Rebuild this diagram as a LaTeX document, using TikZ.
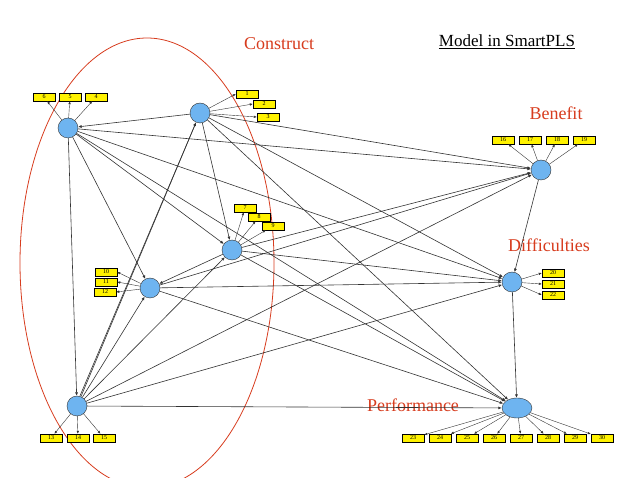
\documentclass[tikz,border=0pt]{standalone}
\usepackage{fontspec}
\setmainfont{Liberation Serif}
\usetikzlibrary{positioning,arrows.meta,shapes.geometric}
\definecolor{plsblue}{RGB}{110,180,240}
\definecolor{plsred}{RGB}{215,60,30}

\begin{document}
\begin{tikzpicture}[x=1pt,y=-1pt,
    latent/.style={circle, draw=black!80, fill=plsblue, minimum size=20pt, inner sep=0pt},
    item/.style={rectangle, draw, fill=yellow, minimum width=22pt, minimum height=8pt, inner sep=0pt, font=\fontsize{6}{6}\selectfont},
    path/.style={-{Latex[length=3.5pt,width=3pt]}, black!80, semithick},
    load/.style={-{Latex[length=3pt,width=2.5pt]}, black!80, thin},
    title/.style={font=\fontsize{18}{18}\selectfont, text=plsred}
]
\useasboundingbox (0,0) rectangle (638,478);

% Construct group
\draw[plsred, thick] (147,263) ellipse [x radius=127, y radius=225];
\node[title] (construct) at (279,44) {Construct};
\node[font=\fontsize{17}{17}\selectfont] (model) at (507,42) {\underline{Model in SmartPLS}};

% Latent variables
\node[latent] (a) at (68,128) {};
\node[latent] (b) at (200,113) {};
\node[latent] (c) at (232,250) {};
\node[latent] (d) at (150,288) {};
\node[latent] (e) at (77,406) {};
\node[latent] (f) at (541,170) {};
\node[latent] (g) at (512,282) {};
\node[latent, ellipse, minimum width=30pt, minimum height=20pt] (h) at (517,408) {};

% Labels of the outcome constructs
\node[title] (lbenefit) at (556,113) {Benefit};
\node[title] (ldiff) at (549,245) {Difficulties};
\node[title] (lperf) at (413,405) {Performance};

% Indicators
\node[item] (i6) at (44,97) {6};
\node[item] (i5) at (70,97) {5};
\node[item] (i4) at (96,97) {4};
\node[item] (i1) at (247,94) {1};
\node[item] (i2) at (264,104) {2};
\node[item] (i3) at (268,117) {3};
\node[item] (i7) at (245,208) {7};
\node[item] (i8) at (259,217) {8};
\node[item] (i9) at (273,226) {9};
\node[item] (i10) at (106,272) {10};
\node[item] (i11) at (106,282) {11};
\node[item] (i12) at (105,292) {12};
\node[item] (i13) at (51,438) {13};
\node[item] (i14) at (78,438) {14};
\node[item] (i15) at (104,438) {15};
\foreach \n/\x in {16/503,17/530,18/557,19/584}
    \node[item] (i\n) at (\x,140) {\n};
\foreach \n/\y in {20/273,21/284,22/295}
    \node[item] (i\n) at (553,\y) {\n};
\foreach \n/\x in {23/413,24/440,25/467,26/494,27/521,28/548,29/575,30/602}
    \node[item] (i\n) at (\x,438) {\n};

% Loadings
\foreach \i in {4,5,6} \draw[load] (a) -- (i\i);
\foreach \i in {1,2,3} \draw[load] (b) -- (i\i.west);
\foreach \i in {7,8,9} \draw[load] (c) -- (i\i);
\foreach \i in {10,11,12} \draw[load] (d) -- (i\i.east);
\foreach \i in {13,14,15} \draw[load] (e) -- (i\i);
\foreach \i in {16,17,18,19} \draw[load] (f) -- (i\i);
\foreach \i in {20,21,22} \draw[load] (g) -- (i\i.west);
\foreach \i in {23,...,30} \draw[load] (h) -- (i\i);

% Structural paths
\draw[path] (b) -- (a);
\foreach \t in {c,d,e,f,g,h} \draw[path] (a) -- (\t);
\foreach \t in {c,f,g,h} \draw[path] (b) -- (\t);
\draw[path] (e) -- (b);
\draw[path] ([xshift=3pt]e.north) -- (b);
\foreach \t in {d,f,g,h} \draw[path] (c) -- (\t);
\draw[path] (e) -- (c);
\foreach \t in {f,g,h} \draw[path] (d) -- (\t);
\draw[path] (e) -- (d);
\foreach \t in {f,g,h} \draw[path] (e) -- (\t);
\draw[path] (f) -- (g);
\draw[path] (g) -- (h);
\end{tikzpicture}
\end{document}
